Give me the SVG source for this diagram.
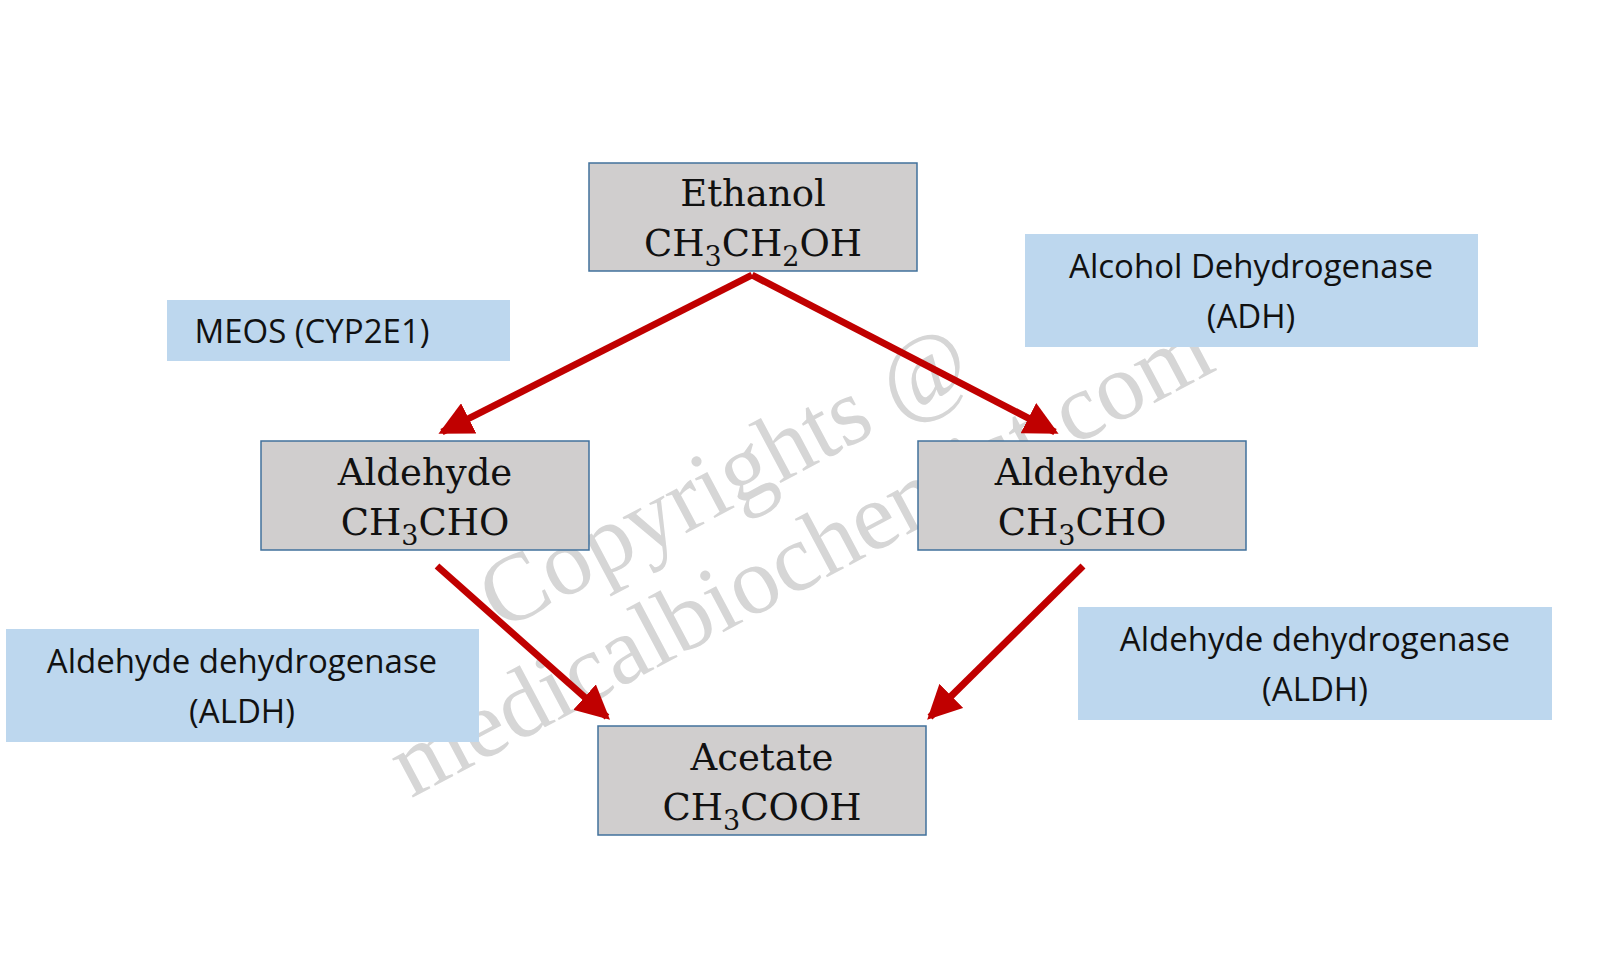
<svg xmlns="http://www.w3.org/2000/svg" width="1600" height="957" viewBox="0 0 1600 957">
<style>
.n{fill:#d0cece;stroke:#41719c;stroke-width:1.5}
.l{fill:#bdd7ee}
.t{font-family:"DejaVu Serif","Liberation Serif",serif;font-size:37px;fill:#111;text-anchor:middle}
.s{font-family:"Open Sans","Liberation Sans",sans-serif;font-size:33px;fill:#111;text-anchor:middle}
.c{stroke:#c00000;stroke-width:7;fill:none;marker-end:url(#a)}
.w{font-family:"Liberation Serif",serif;font-size:96px;fill:#d6d6d6;text-anchor:middle}
</style>
<defs><marker id="a" markerUnits="userSpaceOnUse" markerWidth="36" markerHeight="34" refX="30" refY="17" orient="auto"><path d="M0,0 L34,17 L0,34 Z" fill="#c00000"/></marker></defs>
<rect width="1600" height="957" fill="#fff"/>
<g transform="rotate(-28 780 540)">
<text class="w" x="760" y="490">Copyrights @</text>
<text class="w" x="790" y="595">medicalbiochemist.com</text>
</g>
<g id="connectors">
<line class="c" x1="752" y1="275" x2="442" y2="432"/>
<line class="c" x1="752" y1="275" x2="1055" y2="432"/>
<line class="c" x1="437" y1="566" x2="607" y2="717"/>
<line class="c" x1="1083" y1="566" x2="930" y2="717"/>
</g>
<g id="ethanol"><rect class="n" x="589" y="163" width="328" height="108"/><text class="t" x="753" y="206">Ethanol</text><text class="t" x="753" y="256">CH<tspan dy="10" font-size="27">3</tspan><tspan dy="-10">CH</tspan><tspan dy="10" font-size="27">2</tspan><tspan dy="-10">OH</tspan></text></g>
<g id="ald-left"><rect class="n" x="261" y="441" width="328" height="109"/><text class="t" x="425" y="485">Aldehyde</text><text class="t" x="425" y="535">CH<tspan dy="10" font-size="27">3</tspan><tspan dy="-10">CHO</tspan></text></g>
<g id="ald-right"><rect class="n" x="918" y="441" width="328" height="109"/><text class="t" x="1082" y="485">Aldehyde</text><text class="t" x="1082" y="535">CH<tspan dy="10" font-size="27">3</tspan><tspan dy="-10">CHO</tspan></text></g>
<g id="acetate"><rect class="n" x="598" y="726" width="328" height="109"/><text class="t" x="762" y="770">Acetate</text><text class="t" x="762" y="820">CH<tspan dy="10" font-size="27">3</tspan><tspan dy="-10">COOH</tspan></text></g>
<g id="meos"><rect class="l" x="167" y="300" width="343" height="61"/><text class="s" x="312" y="343">MEOS (CYP2E1)</text></g>
<g id="adh"><rect class="l" x="1025" y="234" width="453" height="113"/><text class="s" x="1251" y="278">Alcohol Dehydrogenase</text><text class="s" x="1251" y="328">(ADH)</text></g>
<g id="aldh-left"><rect class="l" x="6" y="629" width="473" height="113"/><text class="s" x="242" y="673">Aldehyde dehydrogenase</text><text class="s" x="242" y="723">(ALDH)</text></g>
<g id="aldh-right"><rect class="l" x="1078" y="607" width="474" height="113"/><text class="s" x="1315" y="651">Aldehyde dehydrogenase</text><text class="s" x="1315" y="701">(ALDH)</text></g>
</svg>
